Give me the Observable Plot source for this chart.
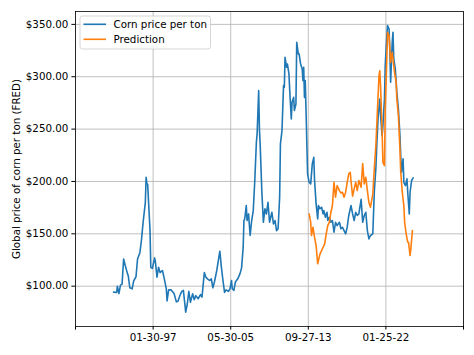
<!DOCTYPE html>
<html><head><meta charset="utf-8">
<script src="https://cdn.jsdelivr.net/npm/d3@7"></script>
<script src="https://cdn.jsdelivr.net/npm/@observablehq/plot@0.6"></script>
<style>body{margin:0;background:#fff} svg{display:block}</style>
</head><body><div id="chart"></div>
<script>
const cornDates = ["1992-10","1993-02","1993-03","1993-05","1993-07","1993-09","1993-11","1994-01","1994-04","1994-05","1994-07","1994-10","1994-12","1995-03","1995-05","1995-08","1995-10","1995-12","1996-03","1996-04","1996-05","1996-06","1996-09","1996-10","1996-12","1997-03","1997-04","1997-06","1997-08","1997-10","1998-01","1998-03","1998-06","1998-07","1998-09","1998-12","1999-03","1999-04","1999-07","1999-09","1999-12","2000-02","2000-04","2000-07","2000-09","2000-11","2001-01","2001-04","2001-06","2001-08","2001-11","2002-02","2002-04","2002-07","2002-09","2002-11","2003-02","2003-04","2003-06","2003-08","2003-11","2004-01","2004-03","2004-05","2004-07","2004-09","2004-11","2005-02","2005-04","2005-06","2005-07","2005-09","2005-11","2006-02","2006-05","2006-07","2006-09","2006-10","2006-11","2007-01","2007-02","2007-04","2007-06","2007-08","2007-10","2007-12","2008-02","2008-03","2008-05","2008-06","2008-07","2008-09","2008-11","2009-01","2009-03","2009-05","2009-07","2009-09","2009-10","2009-12","2010-02","2010-04","2010-06","2010-08","2010-09","2010-11","2011-01","2011-02","2011-03","2011-05","2011-06","2011-08","2011-09","2011-11","2011-12","2012-02","2012-03","2012-05","2012-06","2012-08","2012-09","2012-11","2013-01","2013-02","2013-03","2013-04","2013-05","2013-06","2013-08","2013-10","2013-12","2014-02","2014-04","2014-05","2014-07","2014-09","2014-10","2014-12","2015-02","2015-04","2015-05","2015-07","2015-09","2015-10","2015-12","2016-02","2016-04","2016-06","2016-08","2016-10","2017-01","2017-03","2017-05","2017-07","2017-09","2017-11","2018-01","2018-04","2018-06","2018-08","2018-10","2018-12","2019-02","2019-05","2019-07","2019-09","2019-11","2020-01","2020-03","2020-05","2020-08","2020-10","2020-12","2021-01","2021-03","2021-05","2021-06","2021-08","2021-09","2021-11","2021-12","2022-02","2022-03","2022-05","2022-06","2022-07","2022-09","2022-10","2022-11","2023-01","2023-03","2023-05","2023-07","2023-08","2023-09","2023-11","2023-12","2024-02","2024-04","2024-05","2024-07","2024-08","2024-10","2024-12"];
const cornPrices = [94.3,94,100,93,101,102,126,120,112,110,98.5,97.5,105,109,126,132,144,160,180,204,198,197,153,118,117,127,123,108.6,118,113,115,108.6,97.5,86,96.5,96.5,94,93,85,85.7,92,95,96,75.2,83,95,84.7,92.7,87,91,88,92,89.5,113,108.6,107,105.4,107,98.5,104,115,124.5,133.4,118,105.4,94,96.5,95,97.5,105.4,97.5,96,104,107,112,117.5,137,162.7,164.3,177,162.7,169,148.4,162.7,172,200.9,237.4,245.4,286.7,248.6,234,191,161,173.9,169,180,161,167.5,170.6,159.5,162.7,153,154.8,185,235.9,248.6,291.5,289.9,318.5,309,312.2,302.7,286.7,259.7,275.6,280.3,267.7,274,332.8,321.8,321.8,312.2,307.4,296.3,309,280.3,296.3,267.7,207.3,199.2,197.7,216.8,223,200.9,178.6,164.3,177,173.9,175.4,169,172.2,165.8,170.6,162.7,165.8,161,162.7,151.5,161,157.9,161,154.8,156.3,153.1,150,156.3,167.5,177,169,162.7,170.6,167.5,169,183,161,167.5,170.6,153.1,145.2,148.4,150,191.3,213.5,233,262.9,278.8,262.9,243.8,253.3,278.8,310.6,339.2,348.8,345.6,323.3,294.7,332.8,342.4,317,307.4,285.1,269.3,243.8,224.7,208.8,221.6,199.2,196.1,202.5,189.7,169,189.7,200.9,203.4];

const predDates = ["2013-10","2013-12","2014-01","2014-03","2014-05","2014-07","2014-09","2014-12","2015-02","2015-04","2015-06","2015-08","2015-10","2015-12","2016-02","2016-04","2016-06","2016-08","2016-10","2017-01","2017-03","2017-05","2017-07","2017-09","2017-11","2018-01","2018-03","2018-04","2018-06","2018-08","2018-10","2018-12","2019-02","2019-05","2019-07","2019-09","2019-11","2020-01","2020-03","2020-05","2020-08","2020-10","2020-12","2021-02","2021-04","2021-05","2021-06","2021-08","2021-09","2021-11","2021-12","2022-02","2022-03","2022-05","2022-06","2022-07","2022-09","2022-10","2022-12","2023-02","2023-03","2023-05","2023-07","2023-08","2023-10","2023-12","2024-01","2024-03","2024-05","2024-06","2024-08","2024-09","2024-11"];
const predPrices = [169,161,148.4,156.3,146.8,138.8,121.4,130.9,134,137.2,140.4,150,157.9,161,170.6,177,199.2,185,196,191.3,189,189.7,185,189.7,199.2,207.3,208.8,200,186,192.9,199.2,191.3,200.9,194.5,217,197.7,204,191.3,180,175.4,188,213,235,269.3,301,305.7,291.5,247,218.3,215.2,269.3,317,342.4,339.2,326.5,313.7,323.3,317,304.2,294.7,278.8,262.9,231.1,208.8,189.7,177,161,150,142,142,129.3,135.7,153.1];

const tickDates = ["1988-09-30","1997-01-30","2005-05-30","2013-09-27","2022-01-25","2030-05-26"];
const tickLabels = ["","01-30-97","05-30-05","09-27-13","01-25-22",""];
const yTicks = [100,150,200,250,300,350];
const seriesNames = ["Corn price per ton","Prediction"];
const seriesColors = ["#1f77b4","#ff7f0e"];
const yLabel = "Global price of corn per ton (FRED)";

const parseMonth = s => d3.utcDay.offset(d3.utcParse("%Y-%m")(s), 29);
const corn = cornDates.map((d, i) => ({date: parseMonth(d), price: cornPrices[i]}));
const pred = predDates.map((d, i) => ({date: parseMonth(d), price: predPrices[i]}));
const ticks = tickDates.map(d3.utcParse("%Y-%m-%d"));
const labelMap = new Map(ticks.map((t, i) => [+t, tickLabels[i]]));

const grid = {stroke: "#b0b0b0", strokeOpacity: 1, strokeWidth: 0.8};

const chart = Plot.plot({
  width: 474, height: 355,
  marginLeft: 75, marginRight: 11, marginTop: 11, marginBottom: 29,
  style: {fontFamily: "DejaVu Sans", fontSize: "10.3px", background: "white", color: "black", overflow: "visible"},
  x: {type: "utc", domain: [ticks[0], ticks[ticks.length - 1]]},
  y: {domain: [61.5, 362.3]},
  marks: [
    Plot.gridX(ticks, grid),
    Plot.gridY(yTicks, grid),
    Plot.line(corn, {x: "date", y: "price", stroke: seriesColors[0], strokeWidth: 1.6}),
    Plot.line(pred, {x: "date", y: "price", stroke: seriesColors[1], strokeWidth: 1.6}),
    Plot.frame({stroke: "black", strokeWidth: 0.8}),
    Plot.axisX(ticks, {tickSize: 3.6, tickPadding: 3.5, tickFormat: d => labelMap.get(+d), label: null, fontSize: "10.3px"}),
    Plot.axisY(yTicks, {tickSize: 3.6, tickPadding: 3.5, tickFormat: d => "$" + d.toFixed(2), label: null, fontSize: "10.3px"}),
    Plot.text([yLabel], {frameAnchor: "left", textAnchor: "middle", rotate: -90, dx: -59, fontSize: "10.3px", fill: "black"})
  ]
});
document.getElementById("chart").appendChild(chart);

// legend (matplotlib-style, upper left inside the axes)
const svg = d3.select(chart);
const lg = svg.append("g").attr("transform", "translate(80,16)");
lg.append("rect").attr("x", 0).attr("y", 0).attr("width", 130.5).attr("height", 33)
  .attr("rx", 2.5).attr("fill", "white").attr("fill-opacity", 0.8)
  .attr("stroke", "#cccccc").attr("stroke-width", 0.8);
seriesNames.forEach((name, i) => {
  const y = 8.3 + i * 15;
  lg.append("line").attr("x1", 3.5).attr("x2", 26).attr("y1", y).attr("y2", y)
    .attr("stroke", seriesColors[i]).attr("stroke-width", 1.6);
  lg.append("text").attr("x", 33.5).attr("y", y).attr("dy", "0.36em").attr("text-anchor", "start")
    .attr("font-family", "DejaVu Sans").attr("font-size", "10.3px").attr("fill", "black").text(name);
});
</script>
</body></html>
